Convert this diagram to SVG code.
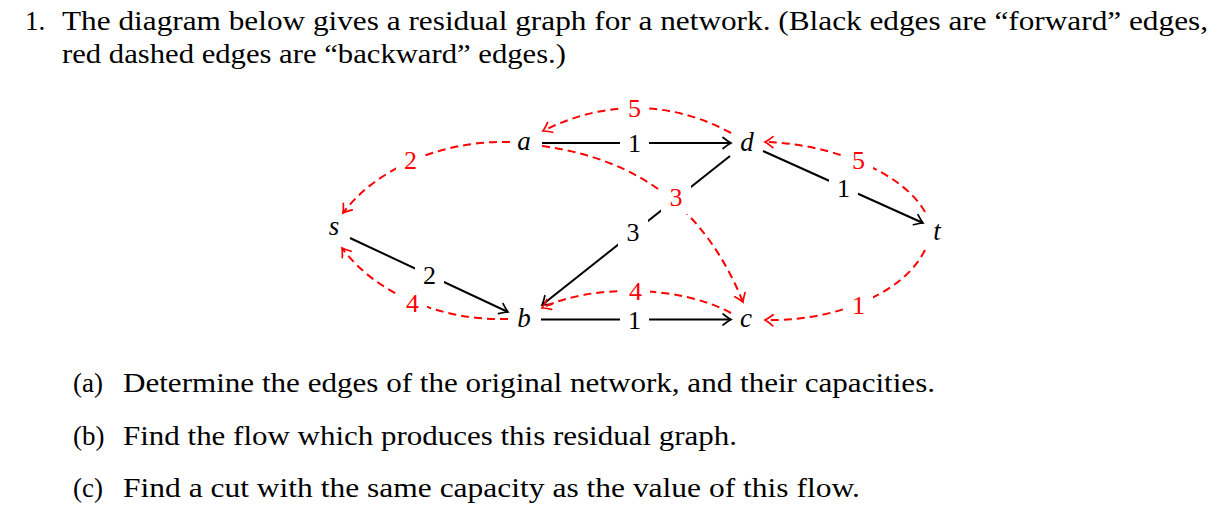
<svg xmlns="http://www.w3.org/2000/svg" width="1226" height="506" viewBox="0 0 1226 506">
<style>
.body{font-family:"Liberation Serif","Times New Roman",serif;font-size:27px;fill:#000}
.fw{fill:none;stroke:#000;stroke-width:2}
.bw{fill:none;stroke:#f00;stroke-width:2;stroke-dasharray:8 5}
.lb{font-family:"Liberation Serif","Times New Roman",serif;font-size:26px;text-anchor:middle}
.blk{fill:#000}
.red{fill:#f00}
.bg{fill:#fff}
.node{font-family:"Liberation Serif","Times New Roman",serif;font-style:italic;font-size:27px;text-anchor:middle;fill:#000}
</style>
<defs>
<marker id="ahk" markerUnits="userSpaceOnUse" markerWidth="20" markerHeight="20" refX="0" refY="0" orient="auto" overflow="visible">
<path d="M-8,-5.5 Q-3,-1.5 0,0 Q-3,1.5 -8,5.5" fill="none" stroke="#000" stroke-width="1.7" stroke-linecap="round" stroke-dasharray="none"/>
</marker>
<marker id="ahr" markerUnits="userSpaceOnUse" markerWidth="20" markerHeight="20" refX="0" refY="0" orient="auto" overflow="visible">
<path d="M-8,-5.5 Q-3,-1.5 0,0 Q-3,1.5 -8,5.5" fill="none" stroke="#f00" stroke-width="1.7" stroke-linecap="round" stroke-dasharray="none"/>
</marker>
</defs>
<rect width="1226" height="506" fill="#fff"/>
<g id="text">
<text class="body" x="25" y="30">1.</text>
<text class="body" x="62" y="30" textLength="1146" lengthAdjust="spacingAndGlyphs">The diagram below gives a residual graph for a network. (Black edges are “forward” edges,</text>
<text class="body" x="62" y="63" textLength="504" lengthAdjust="spacingAndGlyphs">red dashed edges are “backward” edges.)</text>
<text class="body" x="73" y="392">(a)</text>
<text class="body" x="123" y="392" textLength="812" lengthAdjust="spacingAndGlyphs">Determine the edges of the original network, and their capacities.</text>
<text class="body" x="73" y="445">(b)</text>
<text class="body" x="123" y="445" textLength="614" lengthAdjust="spacingAndGlyphs">Find the flow which produces this residual graph.</text>
<text class="body" x="73" y="497">(c)</text>
<text class="body" x="123" y="497" textLength="737" lengthAdjust="spacingAndGlyphs">Find a cut with the same capacity as the value of this flow.</text>
</g>
<g id="connectors">
<path class="fw" d="M542,143 L731,143" marker-end="url(#ahk)"/>
<path class="fw" d="M541,319.5 L731,319.5" marker-end="url(#ahk)"/>
<path class="fw" d="M350,238 L508,312" marker-end="url(#ahk)"/>
<path class="fw" d="M763,151 L923,223" marker-end="url(#ahk)"/>
<path class="fw" d="M730,156 L542,305" marker-end="url(#ahk)"/>
<path class="bw" d="M731,133 C670,100 604,100 543,131" marker-end="url(#ahr)"/>
<path class="bw" d="M510,142 C440,140 375,170 343,213" marker-end="url(#ahr)"/>
<path class="bw" d="M508,319 C440,321 375,293 342,248" marker-end="url(#ahr)"/>
<path class="bw" d="M731,313 C680,285 590,284 542,308" marker-end="url(#ahr)"/>
<path class="bw" d="M925,212 C900,168 822,143 765,142" marker-end="url(#ahr)"/>
<path class="bw" d="M925,250 C900,300 822,322 765,320" marker-end="url(#ahr)"/>
<path class="bw" d="M542,146 C640.7,159.5 705.4,209.8 743,302" marker-end="url(#ahr)"/>
<g id="edge-labels">
<rect class="bg" x="620" y="127" width="29" height="32"/><text class="lb blk" x="634.5" y="152">1</text>
<rect class="bg" x="620" y="304" width="29" height="32"/><text class="lb blk" x="634.5" y="329">1</text>
<rect class="bg" x="415" y="259" width="29" height="32"/><text class="lb blk" x="429.5" y="284">2</text>
<rect class="bg" x="829" y="172" width="29" height="32"/><text class="lb blk" x="843.5" y="197">1</text>
<rect class="bg" x="618" y="215" width="30" height="34"/><text class="lb blk" x="633" y="241">3</text>
<rect class="bg" x="620" y="92" width="29" height="32"/><text class="lb red" x="634.5" y="117">5</text>
<rect class="bg" x="396" y="144" width="29" height="32"/><text class="lb red" x="410.5" y="169">2</text>
<rect class="bg" x="398" y="287" width="29" height="32"/><text class="lb red" x="412.5" y="312">4</text>
<rect class="bg" x="621" y="275" width="29" height="32"/><text class="lb red" x="635.5" y="300">4</text>
<rect class="bg" x="844" y="144" width="29" height="32"/><text class="lb red" x="858.5" y="169">5</text>
<rect class="bg" x="844" y="289" width="29" height="32"/><text class="lb red" x="858.5" y="314">1</text>
<rect class="bg" x="661" y="180" width="30" height="34"/><text class="lb red" x="676" y="206">3</text>
</g>
</g>
<g id="node-s"><text class="node" x="334" y="235">s</text></g>
<g id="node-a"><text class="node" x="524" y="150">a</text></g>
<g id="node-b"><text class="node" x="524" y="327">b</text></g>
<g id="node-c"><text class="node" x="746" y="327">c</text></g>
<g id="node-d"><text class="node" x="747" y="151">d</text></g>
<g id="node-t"><text class="node" x="937" y="240">t</text></g>
</svg>
